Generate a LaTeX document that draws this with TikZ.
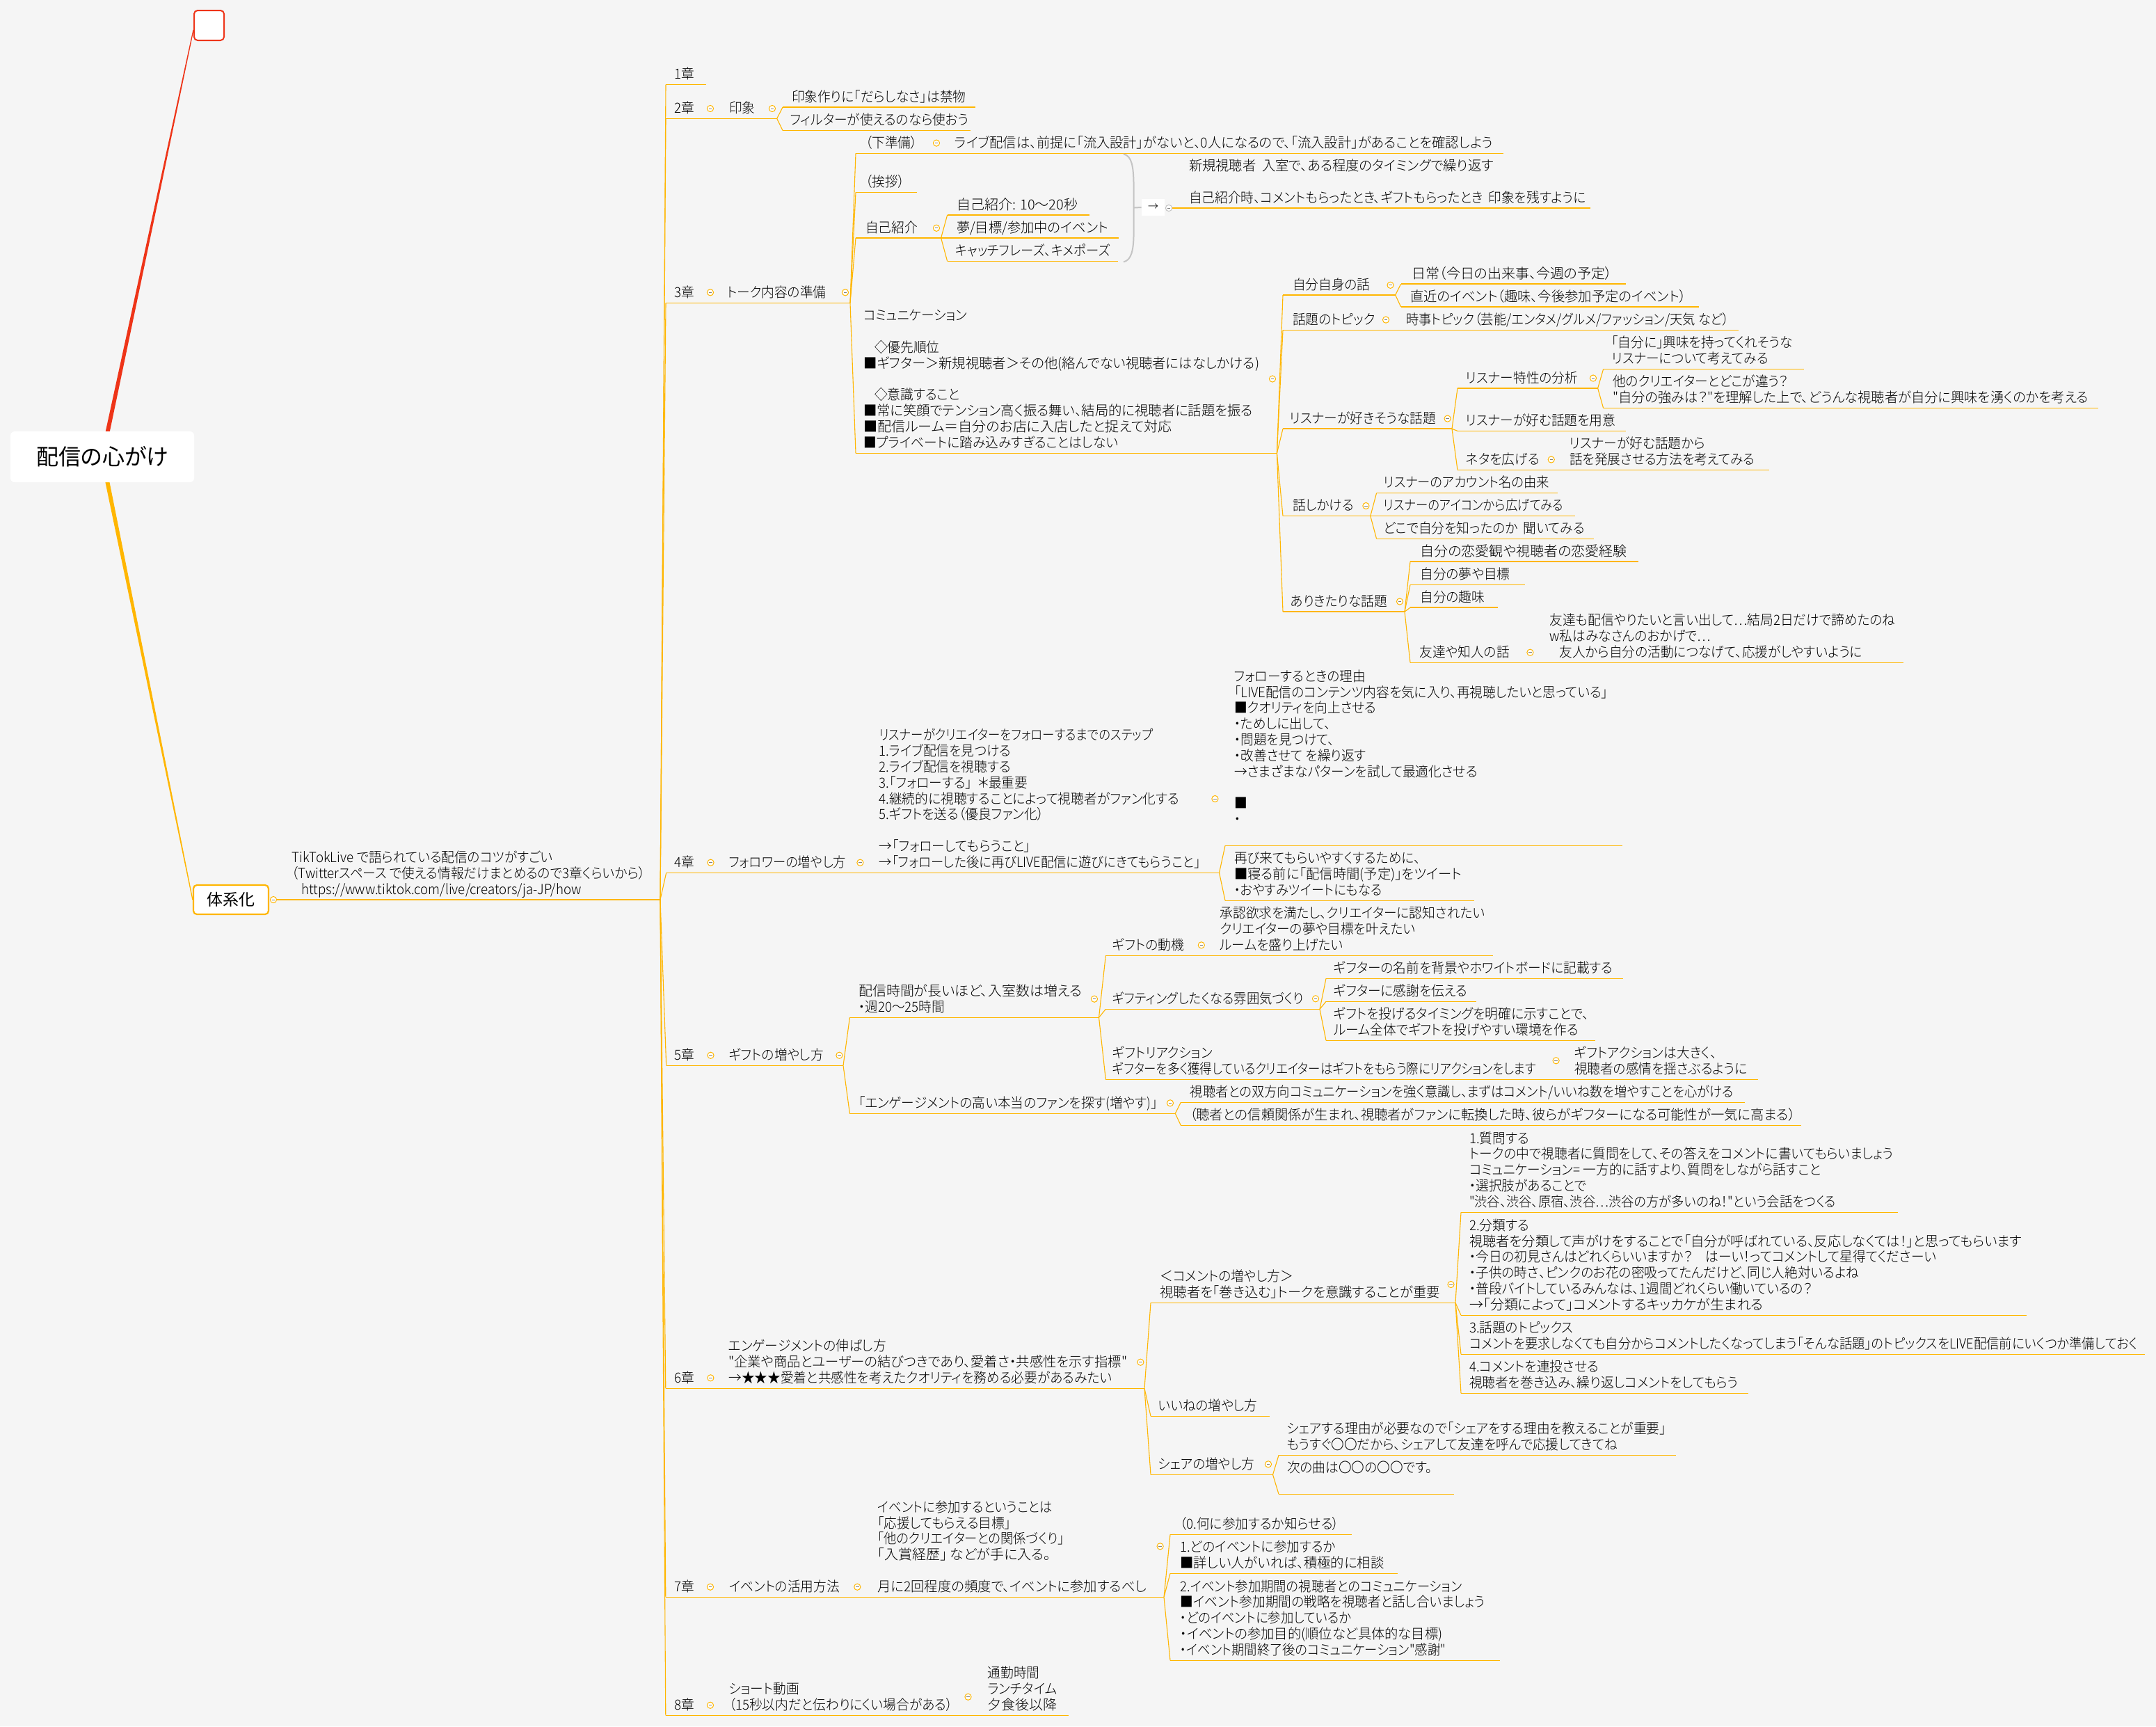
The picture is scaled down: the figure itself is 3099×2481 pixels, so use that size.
\documentclass[tikz,border=0pt]{standalone}
\usepackage{fontspec}
\setmainfont[RawFeature={+palt},FakeStretch=0.935]{Noto Sans CJK JP Light}
\newfontfamily\fnar[RawFeature={+palt},FakeStretch=0.87]{Noto Sans CJK JP Light}
\newfontfamily\fnb[RawFeature={+palt},FakeStretch=0.915]{Noto Sans CJK JP Light}
\newfontfamily\fwid[RawFeature={+palt},FakeStretch=1.0]{Noto Sans CJK JP Light}
\newfontfamily\fhi[RawFeature={+palt},FakeStretch=0.965]{Noto Sans CJK JP Light}
\newfontfamily\fmid[RawFeature={+palt},FakeStretch=0.935]{Noto Sans CJK JP Light}
\newfontfamily\fhead[RawFeature={+palt}]{Noto Sans CJK JP}
\usetikzlibrary{backgrounds}
\definecolor{bgc}{HTML}{F5F5F5}
\definecolor{org}{HTML}{FFB600}
\definecolor{redc}{HTML}{EE3418}
\definecolor{txc}{HTML}{000000}
\definecolor{brk}{HTML}{C4C4C4}
\lineskiplimit=-20pt
\tikzset{
  x=0.5pt,y=-0.5pt,
  ul/.style={draw=org,line width=0.75pt},
  fk/.style={draw=org,line width=0.55pt},
  tx/.style={anchor=base west,inner sep=0pt,outer sep=0pt,align=left,text=txc,
    font=\fontsize{10pt}{11.4pt}\selectfont},
  mkr/.style={circle,draw=org,fill=white,line width=0.5pt,minimum size=4.6pt,inner sep=0pt,
    path picture={\draw[draw=gray,line width=0.35pt] ([xshift=-1.1pt]path picture bounding box.center) -- ([xshift=1.1pt]path picture bounding box.center);}},
  mkg/.style={mkr,draw=brk},
}
\newcommand{\topic}[5]{% name, parent, x0, y, x1
  \coordinate (#1-l) at (#3,#4);
  \coordinate (#1) at (#5,#4);
  \draw[fk] (#2) -- (#1-l);
  \draw[ul] (#1-l) -- (#1);
}
\newcommand{\lab}[4]{\node[tx] (t#1) at (#2,#3-8) {#4};}% name, x, underline y, text
\newcommand{\mk}[3]{\node[mkr] (m#1) at (#2,#3) {};}
\newcommand{\ind}[1]{\hspace*{#1pt}}
\begin{document}
\begin{tikzpicture}
\useasboundingbox (0,0) rectangle (3099,2481);
\begin{pgfonlayer}{background}
\fill[bgc] (0,0) rectangle (3099,2481);
\end{pgfonlayer}
% root and main nodes
\node[fill=white,rounded corners=3pt,minimum width=132pt,minimum height=36.5pt,inner sep=0pt,
  font=\fontsize{16pt}{18pt}\selectfont\fhead,text=black] (root) at (147,656.5) {配信の心がけ};
\node[fill=white,draw=redc,line width=1pt,rounded corners=2.5pt,minimum width=21.5pt,minimum height=21.5pt,inner sep=0pt] (red) at (300.5,36.5) {};
\node[fill=white,draw=org,line width=1.1pt,rounded corners=2.5pt,minimum width=54pt,minimum height=21pt,inner sep=0pt,
  font=\fontsize{11.5pt}{13pt}\selectfont\fhead,text=black] (sys) at (332,1293) {体系化};
\begin{pgfonlayer}{background}
\fill[redc] ([xshift=-1.6pt]root.center) -- ([xshift=1.6pt]root.center) -- ([yshift=-3.2pt,xshift=.3pt]red.west) -- ([yshift=-3.2pt,xshift=-.3pt]red.west) -- cycle;
\fill[org] ([xshift=-1.6pt]root.center) -- ([xshift=1.6pt]root.center) -- ([xshift=.3pt]sys.west) -- ([xshift=-.3pt]sys.west) -- cycle;
\end{pgfonlayer}
% trunk
\mk{sys}{393}{1293}
\coordinate (trunk) at (949,1293);
\draw[org,line width=0.75pt] (msys) -- (trunk);
\draw[org,line width=1.2pt] (msys.east) -- ++(16,0);
\node[tx] (tsys) at (419.5,1285) {TikTokLive で語られている配信のコツがすごい\\（Twitterスペース で使える情報だけまとめるので3章くらいから）\\\ind{7}https://www.tiktok.com/live/creators/ja-JP/how};
% ---- 1章
\topic{c1}{trunk}{957}{121.5}{1014.6}
\lab{c1}{969}{121.5}{1章}
% ---- 2章
\topic{c2}{trunk}{957}{170.4}{1116.7}
\lab{c2}{969}{170.4}{2章}
\mk{c2}{1021}{156}
\lab{c2b}{1048}{170.4}{印象}
\mk{c2b}{1110}{156}
\topic{a1}{c2}{1125}{154.2}{1402}
\lab{a1}{1138}{154.2}{印象作りに「だらしなさ」は禁物}
\topic{a2}{c2}{1125}{187.4}{1395}
\lab{a2}{1136}{187.4}{フィルターが使えるのなら使おう}
% ---- 3章
\topic{c3}{trunk}{957}{435.4}{1222}
\lab{c3}{969}{435.4}{3章}
\mk{c3}{1021}{420.3}
\lab{c3b}{1045}{435.4}{トーク内容の準備}
\mk{c3b}{1215}{420.3}
\topic{b1}{c3}{1230}{220.3}{2161}
\lab{b1}{1244}{220.3}{（下準備）}
\mk{b1}{1346}{205.6}
\lab{b1b}{1372}{220.3}{\fhi ライブ配信は、前提に「流入設計」がないと、0人になるので、「流入設計」があることを確認しよう}
\topic{b2}{c3}{1230}{276.4}{1318}
\lab{b2}{1244}{276.4}{（挨拶）}
\topic{b3}{c3}{1230}{342}{1352.6}
\lab{b3}{1244}{342}{自己紹介}
\mk{b3}{1346}{327.8}
\topic{b31}{b3}{1361.6}{309.2}{1565.6}
\lab{b31}{1375.6}{309.2}{\fwid 自己紹介: 10〜20秒}
\topic{b32}{b3}{1361.6}{342}{1607.7}
\lab{b32}{1375}{342}{\fhi 夢/目標/参加中のイベント}
\topic{b33}{b3}{1361.6}{375.3}{1607}
\lab{b33}{1373}{375.3}{\fnb キャッチフレーズ、キメポーズ}
% summary bracket
\coordinate (brA) at (1615,221.4);
\coordinate (brB) at (1615,376.4);
\coordinate (brM) at (1630,298.5);
\draw[brk,line width=1pt] (brA) .. controls (1627,224) and (1629,240) .. (1629.5,262) -- (1629.5,340) .. controls (1629,360) and (1626,374) .. (brB);
\node[fill=white,text=black,minimum width=16.5pt,minimum height=12.2pt,inner sep=0pt,font=\fontsize{8pt}{9pt}\selectfont] (arrowbox) at (1657.5,298) {→};
\draw[brk,line width=1pt] (brM) -- (arrowbox.west);
\node[mkg] (marrow) at (1680,299) {};
\coordinate (sumend) at (2286,299);
\draw[ul] (marrow) -- (sumend);
\node[tx] (tsum) at (1709,291) {\fhi 新規視聴者 \ 入室で、ある程度のタイミングで繰り返す\\\mbox{}\\\fmid 自己紹介時、コメントもらったとき、ギフトもらったとき \ 印象を残すように};
% communication
\topic{b4}{c3}{1230}{651.3}{1835.4}
\lab{b4}{1241}{651.3}{コミュニケーション\\\mbox{}\\\ind{8}◇優先順位\\\fhi ■ギフター＞新規視聴者＞その他(絡んでない視聴者にはなしかける)\\\mbox{}\\\fmid\ind{8}◇意識すること\\\fhi ■常に笑顔でテンション高く振る舞い、結局的に視聴者に話題を振る\\\fwid ■配信ルーム＝自分のお店に入店したと捉えて対応\\\fmid ■プライベートに踏み込みすぎることはしない}
\mk{b4}{1829}{544.5}
\topic{d1}{b4}{1844}{424}{2005.7}
\lab{d1}{1858}{424}{自分自身の話}
\mk{d1}{1998.5}{409.8}
\topic{d11}{d1}{2013.6}{408.2}{2337}
\lab{d11}{2029}{408.2}{\fwid 日常（今日の出来事、今週の予定）}
\topic{d12}{d1}{2013.6}{441}{2441.7}
\lab{d12}{2027}{441}{\fhi 直近のイベント（趣味、今後参加予定のイベント）}
\topic{d2}{b4}{1844}{474.3}{2499}
\lab{d2}{1858}{474.3}{話題のトピック}
\mk{d2}{1992}{459.6}
\lab{d2b}{2021}{474.3}{\fnb 時事トピック（芸能/エンタメ/グルメ/ファッション/天気 など）}
\topic{d3}{b4}{1844}{616.2}{2087}
\lab{d3}{1854}{616.2}{リスナーが好きそうな話題}
\mk{d3}{2080.6}{601.6}
\topic{d31}{d3}{2095}{558}{2296.6}
\lab{d31}{2107}{558}{リスナー特性の分析}
\mk{d31}{2290}{543.5}
\topic{d311}{d31}{2304.6}{530.4}{2593}
\lab{d311}{2316.6}{530.4}{「自分に」興味を持ってくれそうな\\リスナーについて考えてみる}
\topic{d312}{d31}{2304.6}{586.6}{3015.7}
\lab{d312}{2318}{586.6}{他のクリエイターとどこが違う？\\\fhi "自分の強みは？"を理解した上で、どうんな視聴者が自分に興味を湧くのかを考える}
\topic{d32}{d3}{2095}{619.4}{2337}
\lab{d32}{2107}{619.4}{リスナーが好む話題を用意}
\topic{d33}{d3}{2095}{675.5}{2543}
\lab{d33}{2107}{675.5}{ネタを広げる}
\mk{d33}{2229.7}{660.5}
\lab{d33b}{2256}{675.5}{リスナーが好む話題から\\話を発展させる方法を考えてみる}
\topic{d4}{b4}{1844}{741.6}{1969.8}
\lab{d4}{1858}{741.6}{話しかける}
\mk{d4}{1963.4}{727}
\topic{d41}{d4}{1978.6}{708.4}{2239}
\lab{d41}{1989}{708.4}{\fnb リスナーのアカウント名の由来}
\topic{d42}{d4}{1978.6}{741.6}{2264}
\lab{d42}{1989}{741.6}{\fnar リスナーのアイコンから広げてみる}
\topic{d43}{d4}{1978.6}{774.4}{2291}
\lab{d43}{1989}{774.4}{どこで自分を知ったのか \ 聞いてみる}
\topic{d5}{b4}{1844}{879.2}{2019}
\lab{d5}{1855}{879.2}{ありきたりな話題}
\mk{d5}{2012}{864.5}
\topic{d51}{d5}{2027}{807.2}{2355}
\lab{d51}{2041.5}{807.2}{\fwid 自分の恋愛観や視聴者の恋愛経験}
\topic{d52}{d5}{2027}{840.4}{2192}
\lab{d52}{2041.5}{840.4}{自分の夢や目標}
\topic{d53}{d5}{2027}{873.2}{2153}
\lab{d53}{2041.5}{873.2}{自分の趣味}
\topic{d54}{d5}{2027}{952.3}{2736}
\lab{d54}{2040.7}{952.3}{友達や知人の話}
\mk{d54}{2199.4}{937.7}
\lab{d54b}{2227.3}{952.3}{友達も配信やりたいと言い出して…結局2日だけで諦めたのね\\w私はみなさんのおかげで…\\\ind{7}友人から自分の活動につなげて、応援がしやすいように}
% ---- 4章
\topic{c4}{trunk}{957.7}{1254.3}{1752.5}
\lab{c4}{969.8}{1254.3}{4章}
\mk{c4}{1021.5}{1239.7}
\lab{c4b}{1047.6}{1254.3}{\fnb フォロワーの増やし方}
\mk{c4b}{1236.4}{1239.7}
\lab{c4c}{1263.5}{1254.3}{\fnar リスナーがクリエイターをフォローするまでのステップ\\\fmid 1.ライブ配信を見つける\\2.ライブ配信を視聴する\\3.「フォローする」 \ ＊最重要\\4.継続的に視聴することによって視聴者がファン化する\\5.ギフトを送る（優良ファン化）\\\mbox{}\\→「フォローしてもらうこと」\\\fnb →「フォローした後に再びLIVE配信に遊びにきてもらうこと」}
\mk{c4c}{1746.4}{1148}
\topic{e1}{c4}{1761}{1215.3}{2332}
\lab{e1}{1774}{1215.3}{フォローするときの理由\\「LIVE配信のコンテンツ内容を気に入り、再視聴したいと思っている」\\■クオリティを向上させる\\・ためしに出して、\\・問題を見つけて、\\・改善させて を繰り返す\\→さまざまなパターンを試して最適化させる\\\mbox{}\\■\\・\\\mbox{}}
\topic{e2}{c4}{1761}{1294.3}{2119}
\lab{e2}{1774}{1294.3}{再び来てもらいやすくするために、\\\fhi ■寝る前に「配信時間(予定)」をツイート\\\fnb ・おやすみツイートにもなる}
% ---- 5章
\topic{c5}{trunk}{957.7}{1531.3}{1212}
\lab{c5}{969.8}{1531.3}{5章}
\mk{c5}{1021.5}{1516.7}
\lab{c5b}{1047.6}{1531.3}{ギフトの増やし方}
\mk{c5b}{1206.4}{1516.7}
\topic{f1}{c5}{1221.4}{1462.3}{1579.5}
\lab{f1}{1234}{1462.3}{\fwid 配信時間が長いほど、入室数は増える\\・週20〜25時間}
\mk{f1}{1573}{1435.7}
\topic{f11}{f1}{1589.3}{1373.3}{2146}
\lab{f11}{1599}{1373.3}{ギフトの動機}
\mk{f11}{1726.8}{1358.3}
\lab{f11b}{1753.6}{1373.3}{承認欲求を満たし、クリエイターに認知されたい\\クリエイターの夢や目標を叶えたい\\ルームを盛り上げたい}
\topic{f12}{f1}{1589.3}{1450.3}{1897}
\lab{f12}{1599}{1450.3}{\fnb ギフティングしたくなる雰囲気づくり}
\mk{f12}{1891}{1435.3}
\topic{f121}{f12}{1906}{1406.3}{2333}
\lab{f121}{1917}{1406.3}{ギフターの名前を背景やホワイトボードに記載する}
\topic{f122}{f12}{1906}{1439.3}{2122.3}
\lab{f122}{1917}{1439.3}{ギフターに感謝を伝える}
\topic{f123}{f12}{1906}{1495.3}{2293}
\lab{f123}{1917}{1495.3}{ギフトを投げるタイミングを明確に示すことで、\\ルーム全体でギフトを投げやすい環境を作る}
\topic{f13}{f1}{1589.3}{1551.3}{2526.8}
\lab{f13}{1599}{1551.3}{ギフトリアクション\\\fnar ギフターを多く獲得しているクリエイターはギフトをもらう際にリアクションをします}
\mk{f13}{2236.6}{1524.3}
\lab{f13b}{2263}{1551.3}{ギフトアクションは大きく、\\視聴者の感情を揺さぶるように}
\topic{f2}{c5}{1221.4}{1600.3}{1689.3}
\lab{f2}{1234}{1600.3}{「エンゲージメントの高い本当のファンを探す(増やす)」}
\mk{f2}{1682}{1585.3}
\topic{f21}{f2}{1697.3}{1584.3}{2508}
\lab{f21}{1710.7}{1584.3}{\fnb 視聴者との双方向コミュニケーションを強く意識し、まずはコメント/いいね数を増やすことを心がける}
\topic{f22}{f2}{1697.3}{1617.3}{2589}
\lab{f22}{1710}{1617.3}{\fhi（聴者との信頼関係が生まれ、視聴者がファンに転換した時、彼らがギフターになる可能性が一気に高まる）}
% ---- 6章
\topic{c6}{trunk}{956.8}{1995.3}{1645}
\lab{c6}{969.5}{1995.3}{6章}
\mk{c6}{1021.4}{1980.3}
\lab{c6b}{1047.3}{1995.3}{エンゲージメントの伸ばし方\\\fhi "企業や商品とユーザーの結びつきであり、愛着さ・共感性を示す指標"\\\fmid →★★★愛着と共感性を考えたクオリティを務める必要があるみたい}
\mk{c6b}{1639.4}{1957.7}
\topic{g1}{c6}{1654}{1872.3}{2092}
\lab{g1}{1667.5}{1872.3}{＜コメントの増やし方＞\\\fhi 視聴者を「巻き込む」トークを意識することが重要}
\mk{g1}{2085.5}{1846}
\topic{g11}{g1}{2100}{1742.3}{2728}
\lab{g11}{2112}{1742.3}{1.質問する\\トークの中で視聴者に質問をして、その答えをコメントに書いてもらいましょう\\コミュニケーション= 一方的に話すより、質問をしながら話すこと\\・選択肢があることで\\\fnb "渋谷、渋谷、原宿、渋谷…渋谷の方が多いのね！"という会話をつくる}
\topic{g12}{g1}{2100}{1890.3}{2912.6}
\lab{g12}{2112}{1890.3}{2.分類する\\\fhi 視聴者を分類して声がけをすることで「自分が呼ばれている、反応しなくては！」と思ってもらいます\\\fmid ・今日の初見さんはどれくらいいますか？　はーい！ってコメントして星得てくださーい\\・子供の時さ、ピンクのお花の密吸ってたんだけど、同じ人絶対いるよね\\・普段バイトしているみんなは、1週間どれくらい働いているの？\\\fwid →「分類によって」コメントするキッカケが生まれる}
\topic{g13}{g1}{2100}{1946.3}{3083}
\lab{g13}{2112}{1946.3}{3.話題のトピックス\\\fnb コメントを要求しなくても自分からコメントしたくなってしまう「そんな話題」のトピックスをLIVE配信前にいくつか準備しておく}
\topic{g14}{g1}{2100}{2002.3}{2513}
\lab{g14}{2112}{2002.3}{4.コメントを連投させる\\視聴者を巻き込み、繰り返しコメントをしてもらう}
\topic{g2}{c6}{1654}{2035.3}{1825}
\lab{g2}{1664.7}{2035.3}{いいねの増やし方}
\topic{g3}{c6}{1654}{2119.3}{1829.5}
\lab{g3}{1664.7}{2119.3}{シェアの増やし方}
\mk{g3}{1823}{2104.3}
\topic{g31}{g3}{1838}{2091.3}{2409.4}
\lab{g31}{1849.7}{2091.3}{シェアする理由が必要なので「シェアをする理由を教えることが重要」\\もうすぐ〇〇だから、シェアして友達を呼んで応援してきてね}
\topic{g32}{g3}{1838}{2147.3}{2090}
\lab{g32}{1850}{2147.3}{次の曲は〇〇の〇〇です。\\\mbox{}}
% ---- 7章
\topic{c7}{trunk}{956.8}{2295.3}{1673}
\lab{c7}{969}{2295.3}{7章}
\mk{c7}{1021}{2280.7}
\lab{c7b}{1047.7}{2295.3}{イベントの活用方法}
\mk{c7b}{1232.3}{2280.7}
\lab{c7c}{1261.4}{2295.3}{\fnb イベントに参加するということは\\\fmid 「応援してもらえる目標」\\\fnb 「他のクリエイターとの関係づくり」\\\fwid 「入賞経歴」 などが手に入る。\\\mbox{}\\\fhi 月に2回程度の頻度で、イベントに参加するべし}
\mk{c7c}{1667.6}{2222.3}
\topic{h1}{c7}{1682}{2205.3}{1943.3}
\lab{h1}{1696.4}{2205.3}{（0.何に参加するか知らせる）}
\topic{h2}{c7}{1682}{2261.3}{2008.7}
\lab{h2}{1696.4}{2261.3}{1.どのイベントに参加するか\\\fhi ■詳しい人がいれば、積極的に相談}
\topic{h3}{c7}{1682}{2386.3}{2155.7}
\lab{h3}{1696.4}{2386.3}{\fnb 2.イベント参加期間の視聴者とのコミュニケーション\\\fmid ■イベント参加期間の戦略を視聴者と話し合いましょう\\\fnb ・どのイベントに参加しているか\\\fhi ・イベントの参加目的(順位など具体的な目標)\\\fnb ・イベント期間終了後のコミュニケーション"感謝"}
% ---- 8章
\topic{c8}{trunk}{956.8}{2465.3}{1536.4}
\lab{c8}{969}{2465.3}{8章}
\mk{c8}{1021}{2450.7}
\lab{c8b}{1047.7}{2465.3}{ショート動画\\（15秒以内だと伝わりにくい場合がある）}
\mk{c8b}{1391.5}{2438.7}
\lab{c8c}{1419.6}{2465.3}{通勤時間\\ランチタイム\\\fwid 夕食後以降}
\end{tikzpicture}
\end{document}
